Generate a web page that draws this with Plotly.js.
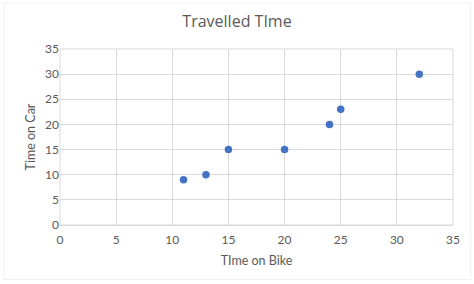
<!DOCTYPE html>
<html><head><meta charset="utf-8">
<script src="https://cdn.plot.ly/plotly-3.0.1.min.js"></script>
<style>html,body{margin:0;padding:0;background:#fff;}#chart{width:474px;height:284px;}</style>
</head><body><div id="chart"></div>
<script>
const chartTitle = "Travelled TIme";
const xTitle = "TIme on Bike";
const yTitle = "Time on Car";
const bikeTimes = [11, 13, 15, 20, 24, 25, 32];
const carTimes = [9, 10, 15, 15, 20, 23, 30];
const tickVals = [0, 5, 10, 15, 20, 25, 30, 35];

const font = "Lato, 'Open Sans', sans-serif";
const grey = "#595959";
Plotly.newPlot("chart", [{
  x: bikeTimes, y: carTimes, type: "scatter", mode: "markers",
  marker: {color: "#4472C4", size: 7.5}
}], {
  width: 474, height: 284,
  margin: {l: 60, r: 21, t: 49, b: 59},
  paper_bgcolor: "#fff", plot_bgcolor: "#fff",
  title: {text: chartTitle, font: {family: "'Open Sans', sans-serif", size: 16, color: grey}, x: 0.5, xanchor: "center", y: 0.925, yanchor: "middle", yref: "container"},
  xaxis: {range: [0, 35], tickvals: tickVals, ticktext: tickVals.map(String), showgrid: true, gridcolor: "#d9d9d9", gridwidth: 1,
    zeroline: false, showline: true, linecolor: "#d9d9d9", mirror: false, ticks: "", ticklen: 0, ticklabelstandoff: 4,
    tickfont: {family: font, size: 12, color: grey},
    title: {text: xTitle, font: {family: font, size: 12.5, color: grey}, standoff: 9}},
  yaxis: {range: [0, 35], tickvals: tickVals, ticktext: tickVals.map(String), showgrid: true, gridcolor: "#d9d9d9", gridwidth: 1,
    zeroline: false, showline: false, ticks: "", ticksuffix: "  ",
    tickfont: {family: font, size: 12, color: grey},
    title: {text: yTitle, font: {family: font, size: 12.5, color: grey}, standoff: 6}},
  shapes: [
    {type: "rect", xref: "paper", yref: "paper", x0: 0, x1: 1, y0: 0, y1: 1, line: {color: "#d9d9d9", width: 1}, layer: "below"},
    {type: "rect", xref: "paper", yref: "paper", x0: -0.1425, x1: 1.045, y0: -0.31, y1: 1.26, line: {color: "#f0f0f0", width: 1}, layer: "below"}
  ],
  showlegend: false
}, {staticPlot: true, displayModeBar: false});
</script></body></html>
